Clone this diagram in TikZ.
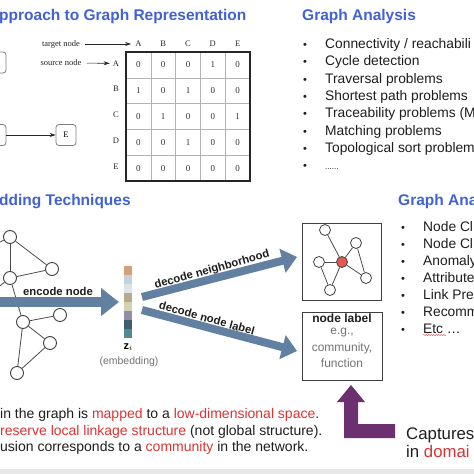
\documentclass[tikz,border=0pt]{standalone}
\usepackage{fontspec}
\setmainfont{Liberation Sans}
\newfontfamily\seriffont{Liberation Serif}
\usetikzlibrary{arrows.meta,decorations.pathmorphing}
\definecolor{ttl}{HTML}{4262D4}
\definecolor{arr}{HTML}{62809F}
\definecolor{hl}{HTML}{DD3333}
\definecolor{purp}{HTML}{6C2F70}
\definecolor{nodered}{HTML}{E05A50}
\definecolor{txt}{HTML}{1E1E1E}
\definecolor{ec1}{HTML}{D59F7E}
\definecolor{ec2}{HTML}{C6D1DB}
\definecolor{ec3}{HTML}{DDE3E8}
\definecolor{ec4}{HTML}{B3AB8C}
\definecolor{ec5}{HTML}{D3D1B0}
\definecolor{ec6}{HTML}{918EAA}
\definecolor{ec7}{HTML}{415D70}
\definecolor{ec8}{HTML}{4F8B8F}
\begin{document}
\begin{tikzpicture}[x=1pt,y=-1pt,
  title/.style={anchor=base west,text=ttl,font=\fontsize{15.5}{18}\selectfont\bfseries,inner sep=0},
  item/.style={anchor=base west,font=\fontsize{13.8}{16}\selectfont,inner sep=0,text=txt},
  bul/.style={anchor=base,font=\fontsize{11}{12}\selectfont,inner sep=0,text=txt},
  gnode/.style={circle,draw=black!75,line width=0.9pt,fill=white,minimum size=13pt,inner sep=0},
  sgnode/.style={circle,draw=black!75,line width=0.8pt,fill=white,minimum size=11pt,inner sep=0},
  gedge/.style={draw=black!70,line width=0.8pt},
  fat/.style={draw=arr,line width=8pt,-{Triangle[length=15pt,width=24pt]}},
  rbox/.style={draw=black!50,rounded corners=3pt,line width=0.8pt,minimum width=20pt,minimum height=21pt,inner sep=0,font=\seriffont\fontsize{8.5}{10}\selectfont},
  mtxt/.style={font=\seriffont\fontsize{9}{10}\selectfont,inner sep=0,text=black!80},
  lab/.style={font=\seriffont\fontsize{8.5}{10}\selectfont,inner sep=0,text=black!85},
  ptr/.style={draw=black!85,line width=0.6pt,-{Stealth[length=6pt,width=4pt]}},
  gridl/.style={draw=black!30,line width=0.6pt},
  arrlab/.style={font=\fontsize{11.3}{14}\selectfont\bfseries,text=txt,inner sep=0},
  lowtxt/.style={anchor=base west,font=\fontsize{14}{16}\selectfont,inner sep=0,text=txt}
]
\clip (0,0) rectangle (474,474);
\fill[white] (0,0) rectangle (474,474);
\fill[black!9] (0,469) rectangle (474,474);

% ---------- Section titles ----------
\node[title] (t1) at (-1,20) {pproach to Graph Representation};
\node[title] (t2) at (302,20) {Graph Analysis};
\node[title] (t3) at (-1,205) {dding Techniques};
\node[title] (t4) at (398,205) {Graph Ana};

% ---------- Adjacency matrix ----------
\foreach \i in {1,...,4} {
  \draw[gridl] ({126+24.8*\i},52) -- ({126+24.8*\i},181);
  \draw[gridl] (126,{52+25.8*\i}) -- (250,{52+25.8*\i});
}
\draw[line width=1.5pt,black!85] (126,52) rectangle (250,181);
\foreach \row [count=\r from 0] in {{0,0,0,1,0},{1,0,1,0,0},{0,1,0,0,1},{0,0,1,0,0},{0,0,0,0,0}} {
  \foreach \v [count=\c from 0] in \row {
    \node[mtxt] (m\r\c) at ({126+24.8*(\c+0.5)},{52+25.8*(\r+0.5)}) {\v};
  }
}
\foreach \L [count=\c from 0] in {A,B,C,D,E} {
  \node[lab] (h\L) at ({126+24.8*(\c+0.5)},44) {\L};
  \node[lab] (r\L) at (116,{50.5+25.8*(\c+0.5)}) {\L};
}
\node[lab] (tn) at (61,44) {target node};
\node[lab] (sn) at (61,63) {source node};
\draw[ptr,shorten <=5pt,shorten >=4pt] (tn.east) -- (hA.west);
\draw[ptr,shorten <=5pt,shorten >=3pt] (sn.east) -- (rA.west);

% left little graph boxes
\node[rbox] (lb1) at (-4,62.5) {};
\node[rbox] (lb2) at (-4,135) {};
\node[rbox] (lbE) at (66,135) {E};
\draw[ptr] (lb2) -- (lbE);

% ---------- Graph Analysis list ----------
\foreach \t [count=\k from 0] in {Connectivity / reachabili,Cycle detection,Traversal problems,Shortest path problems,Traceability problems (M,Matching problems,Topological sort problem} {
  \node[bul] (ba\k) at (305,{48.5+17.3*\k}) {•};
  \node[item] (ia\k) at (325,{48.5+17.3*\k}) {\t};
}
\node[bul] (ba7) at (305,169.6) {•};
\node[item,font=\fontsize{8}{10}\selectfont] (ia7) at (325,169.6) {......};

% ---------- Left graph ----------
\node[gnode] (g1) at (10,237) {};
\node[gnode] (g2) at (52,269) {};
\node[gnode] (g3) at (10,278) {};
\node[gnode] (g4) at (23,322) {};
\node[gnode] (g5) at (60,315) {};
\node[gnode] (g6) at (50,343) {};
\node[gnode] (g7) at (17,373) {};
\coordinate (o1) at (-8,246);
\coordinate (o2) at (-8,292);
\draw[gedge] (o1) -- (g1);
\draw[gedge] (o2) -- (g3);
\draw[gedge] (g1) -- (g2);
\draw[gedge] (g1) -- (g3);
\draw[gedge] (g3) -- (g2);
\draw[gedge] (g3) -- (g4);
\draw[gedge] (g4) -- (g5);
\draw[gedge] (g4) -- (g6);
\draw[gedge] (g4) -- (g7);
\draw[gedge] (g6) -- (g7);

% encode arrow
\coordinate (encS) at (-6,302);
\coordinate (encT) at (119,302);
\draw[fat,line width=10pt,-{Triangle[length=18pt,width=27pt]}] (encS) -- (encT);
\node[arrlab] (enc) at (58,291.5) {encode node};

% embedding vector
\node[minimum width=8pt,minimum height=72pt,inner sep=0] (emb) at (128,302) {};
\foreach \col [count=\k from 0] in {ec1,ec2,ec3,ec4,ec5,ec6,ec7,ec8} {
  \fill[\col] (124,{266+9*\k}) rectangle (132,{266+9*(\k+1)});
}
\node[inner sep=0,font=\fontsize{11}{12}\selectfont] (zi) at (128,347) {$\mathbf{z}_i$};
\node[inner sep=0,font=\fontsize{10.5}{12}\selectfont,text=black!55] (embl) at (129,362) {(embedding)};

% decode arrows
\coordinate (d1s) at (142,297);
\coordinate (d1t) at (297,257);
\coordinate (d2s) at (142,310);
\coordinate (d2t) at (297,351);
\draw[fat] (d1s) -- (d1t);
\draw[fat] (d2s) -- (d2t);
\node[arrlab,rotate=15.5] (dn) at (212,270) {decode neighborhood};
\node[arrlab,rotate=-15.5] (dl) at (207,318) {decode node label};

% ---------- right boxes ----------
\node[draw=black!75,line width=0.9pt,minimum width=79pt,minimum height=77pt,inner sep=0] (gbox) at (341.5,261.5) {};
\node[draw=black!75,line width=0.9pt,minimum width=80pt,minimum height=68pt,inner sep=0] (lbox) at (342,346) {};
\node[sgnode] (s1) at (325,230) {};
\node[sgnode] (s2) at (356,243) {};
\node[sgnode,fill=nodered] (sc) at (342,262) {};
\node[sgnode] (s3) at (319,262) {};
\node[sgnode] (s4) at (330,290) {};
\node[sgnode] (s5) at (366,278) {};
\draw[gedge] (s1) -- (sc);
\draw[gedge] (s3) -- (sc);
\draw[gedge] (sc) -- (s2);
\draw[gedge] (sc) -- (s5);
\draw[gedge] (sc) -- (s4);
\draw[gedge] (s3) -- (s4);
\draw[gedge] (s2) -- (s5);
\node[inner sep=0,font=\fontsize{12}{14}\selectfont\bfseries,text=txt] (nl1) at (342,318) {node label};
\node[inner sep=0,font=\fontsize{12}{14}\selectfont,text=black!55] (nl2) at (342,333) {e.g.,};
\node[inner sep=0,font=\fontsize{12}{14}\selectfont,text=black!55] (nl3) at (342,348) {community,};
\node[inner sep=0,font=\fontsize{12}{14}\selectfont,text=black!55] (nl4) at (342,363) {function};

% ---------- Graph Ana list ----------
\foreach \t [count=\k from 0] in {Node Cl,Node Cl,Anomaly,Attribute,Link Pre,Recomm,Etc \dots} {
  \node[bul] (bb\k) at (403,{231+17*\k}) {•};
  \node[item] (ib\k) at (423,{231+17*\k}) {\t};
}
\draw[hl!80,line width=0.5pt,decorate,decoration={snake,amplitude=0.6pt,segment length=2.5pt}] (423,335) -- (446,335);

% ---------- bottom text ----------
\node[lowtxt] (b1) at (0,418) {in the graph is \textcolor{hl}{mapped} to a \textcolor{hl}{low-dimensional space}.};
\node[lowtxt] (b2) at (0,435) {\textcolor{hl}{reserve local linkage structure} (not global structure).};
\node[lowtxt] (b3) at (0,451) {usion corresponds to a \textcolor{hl}{community} in the network.};

% purple L arrow
\fill[purp] (351,385) -- (365,402) -- (358,402) -- (358,424) -- (395,424) -- (395,438) -- (344,438) -- (344,402) -- (337,402) -- cycle;

\node[anchor=base west,inner sep=0,font=\fontsize{16.8}{18}\selectfont,text=txt] (cap1) at (406,439) {Captures};
\node[anchor=base west,inner sep=0,font=\fontsize{16.8}{18}\selectfont,text=txt] (cap2) at (406,457) {in \textcolor{hl}{domai}};
\end{tikzpicture}
\end{document}
